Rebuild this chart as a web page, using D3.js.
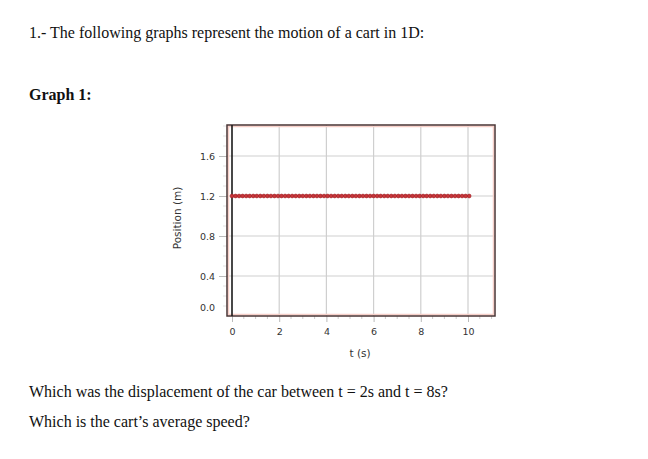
<!DOCTYPE html>
<html>
<head>
<meta charset="utf-8">
<script src="https://cdn.jsdelivr.net/npm/d3@7"></script>
<style>
  body { margin: 0; background: #fff; }
  svg text { fill: #111; }
  .serif { font-family: 'Liberation Serif', 'Times New Roman', serif; }
  .tick-label { font-family: 'DejaVu Sans', sans-serif; font-size: 9.5px; fill: #333; }
</style>
</head>
<body>
<svg id="chart" width="648" height="459"></svg>
<script>
'use strict';

const times = [
    0, 0.15, 0.3, 0.45, 0.6, 0.75, 0.9, 1.05, 1.2, 1.35, 1.5, 1.65, 1.8, 1.95,
    2.1, 2.25, 2.4, 2.55, 2.7, 2.85, 3.0, 3.15, 3.3, 3.45, 3.6, 3.75, 3.9, 4.05,
    4.2, 4.35, 4.5, 4.65, 4.8, 4.95, 5.1, 5.25, 5.4, 5.55, 5.7, 5.85, 6.0, 6.15,
    6.3, 6.45, 6.6, 6.75, 6.9, 7.05, 7.2, 7.35, 7.5, 7.65, 7.8, 7.95, 8.1, 8.25,
    8.4, 8.55, 8.7, 8.85, 9.0, 9.15, 9.3, 9.45, 9.6, 9.75, 9.9, 10.05
];
const positions = [
    1.2, 1.2, 1.2, 1.2, 1.2, 1.2, 1.2, 1.2, 1.2, 1.2, 1.2, 1.2, 1.2, 1.2,
    1.2, 1.2, 1.2, 1.2, 1.2, 1.2, 1.2, 1.2, 1.2, 1.2, 1.2, 1.2, 1.2, 1.2,
    1.2, 1.2, 1.2, 1.2, 1.2, 1.2, 1.2, 1.2, 1.2, 1.2, 1.2, 1.2, 1.2, 1.2,
    1.2, 1.2, 1.2, 1.2, 1.2, 1.2, 1.2, 1.2, 1.2, 1.2, 1.2, 1.2, 1.2, 1.2,
    1.2, 1.2, 1.2, 1.2, 1.2, 1.2, 1.2, 1.2, 1.2, 1.2, 1.2, 1.2
];
const xTicks = [0, 2, 4, 6, 8, 10];
const yTicks = [0, 0.4, 0.8, 1.2, 1.6];

const heading = '1.- The following graphs represent the motion of a cart in 1D:';
const graphTitle = 'Graph 1:';
const questions = [
    'Which was the displacement of the car between t = 2s and t = 8s?',
    'Which is the cart\u2019s average speed?'
];

const svg = d3.select('#chart');

// Plot box
const box = {left: 227, right: 495, top: 125, bottom: 316};

const x = d3.scaleLinear().domain([0, 10]).range([232, 468]);
const y = d3.scaleLinear().domain([0, 1.6]).range([316, 156]);

// Page text
svg.append('text')
    .attr('class', 'serif')
    .attr('x', 29)
    .attr('y', 38)
    .attr('font-size', 16)
    .text(heading);

svg.append('text')
    .attr('class', 'serif')
    .attr('x', 29)
    .attr('y', 100)
    .attr('font-size', 16)
    .attr('font-weight', 'bold')
    .text(graphTitle);

svg.selectAll('text.question')
    .data(questions)
    .enter()
    .append('text')
    .attr('class', 'serif question')
    .attr('x', 29)
    .attr('y', (d, i) => 397 + i * 30)
    .attr('font-size', 16)
    .text((d) => d);

/* ///////////////////////////////////////////////////////////////
// Grid, minor and major ticks
/////////////////////////////////////////////////////////////// */

const grid = svg.append('g');

grid.selectAll('line.vgrid')
    .data(xTicks.slice(1))
    .enter()
    .append('line')
    .attr('x1', (d) => x(d))
    .attr('x2', (d) => x(d))
    .attr('y1', box.top)
    .attr('y2', box.bottom)
    .attr('stroke', '#cfcfcf')
    .attr('stroke-width', 1.2);

grid.selectAll('line.hgrid')
    .data(yTicks.slice(1))
    .enter()
    .append('line')
    .attr('x1', box.left)
    .attr('x2', box.right)
    .attr('y1', (d) => y(d))
    .attr('y2', (d) => y(d))
    .attr('stroke', '#cfcfcf')
    .attr('stroke-width', 1.2);

// x axis below the box
const xAxis = d3.axisBottom(x)
    .tickValues(xTicks)
    .tickSize(6)
    .tickPadding(6)
    .tickFormat(d3.format('d'));

const gx = svg.append('g')
    .attr('transform', `translate(0, ${box.bottom})`)
    .call(xAxis);
gx.select('.domain').remove();
gx.selectAll('line').attr('stroke', '#bbb');
gx.selectAll('text').attr('class', 'tick-label').attr('font-size', null).attr('font-family', null);

const xMinor = d3.range(0.5, 11.01, 0.5).filter((d) => d % 2 !== 0);
svg.append('g').selectAll('line')
    .data(xMinor)
    .enter()
    .append('line')
    .attr('x1', (d) => x(d))
    .attr('x2', (d) => x(d))
    .attr('y1', box.bottom)
    .attr('y2', box.bottom + 3)
    .attr('stroke', '#ccc');

// y axis left of the box
const yAxis = d3.axisLeft(y)
    .tickValues(yTicks)
    .tickSize(8)
    .tickPadding(4)
    .tickFormat(d3.format('.1f'));

const gy = svg.append('g')
    .attr('transform', `translate(${box.left}, 0)`)
    .call(yAxis);
gy.select('.domain').remove();
gy.selectAll('line').attr('stroke', '#bbb');
gy.selectAll('line').filter((d) => d === 0).remove();
gy.selectAll('text').attr('class', 'tick-label').attr('font-size', null).attr('font-family', null);
// 0.0 label sits a little above the box floor
gy.selectAll('text').filter((d) => d === 0).attr('dy', '-0.55em');

const yMinor = d3.range(0.1, 1.91, 0.1).filter((d) => Math.round(d * 10) % 4 !== 0);
svg.append('g').selectAll('line')
    .data(yMinor)
    .enter()
    .append('line')
    .attr('x1', box.left - 4)
    .attr('x2', box.left)
    .attr('y1', (d) => y(d))
    .attr('y2', (d) => y(d))
    .attr('stroke', '#e2e2e2');

// Axis titles
svg.append('text')
    .attr('class', 'tick-label')
    .attr('text-anchor', 'middle')
    .attr('x', 360)
    .attr('y', 357)
    .style('font-size', '10.5px')
    .text('t (s)');

svg.append('text')
    .attr('class', 'tick-label')
    .attr('text-anchor', 'middle')
    .attr('transform', 'translate(181, 218) rotate(-90)')
    .style('font-size', '10.5px')
    .text('Position (m)');

/* ///////////////////////////////////////////////////////////////
// Box frame and the t = 0 axis line
/////////////////////////////////////////////////////////////// */

svg.append('rect')
    .attr('x', box.left + 1.5)
    .attr('y', box.top + 1.5)
    .attr('width', box.right - box.left - 3)
    .attr('height', box.bottom - box.top - 3)
    .attr('fill', 'none')
    .attr('stroke', '#f6cfc8')
    .attr('stroke-width', 1.5);

svg.append('rect')
    .attr('x', box.left)
    .attr('y', box.top)
    .attr('width', box.right - box.left)
    .attr('height', box.bottom - box.top)
    .attr('fill', 'none')
    .attr('stroke', '#4a3535')
    .attr('stroke-width', 1.5);

svg.append('line')
    .attr('x1', x(0))
    .attr('x2', x(0))
    .attr('y1', box.top)
    .attr('y2', box.bottom)
    .attr('stroke', '#1a1a1a')
    .attr('stroke-width', 1.6);

// Data: line + dots
const points = times.map((t, i) => ({t: t, p: positions[i]}));

svg.append('path')
    .datum(points)
    .attr('fill', 'none')
    .attr('stroke', '#b3262b')
    .attr('stroke-width', 1.2)
    .attr('d', d3.line().x((d) => x(d.t)).y((d) => y(d.p)));

svg.append('g').selectAll('circle')
    .data(points)
    .enter()
    .append('circle')
    .attr('cx', (d) => x(d.t))
    .attr('cy', (d) => y(d.p))
    .attr('r', 1.9)
    .attr('fill', '#c8363a')
    .attr('stroke', '#9e1f24')
    .attr('stroke-width', 0.6);
</script>
</body>
</html>
